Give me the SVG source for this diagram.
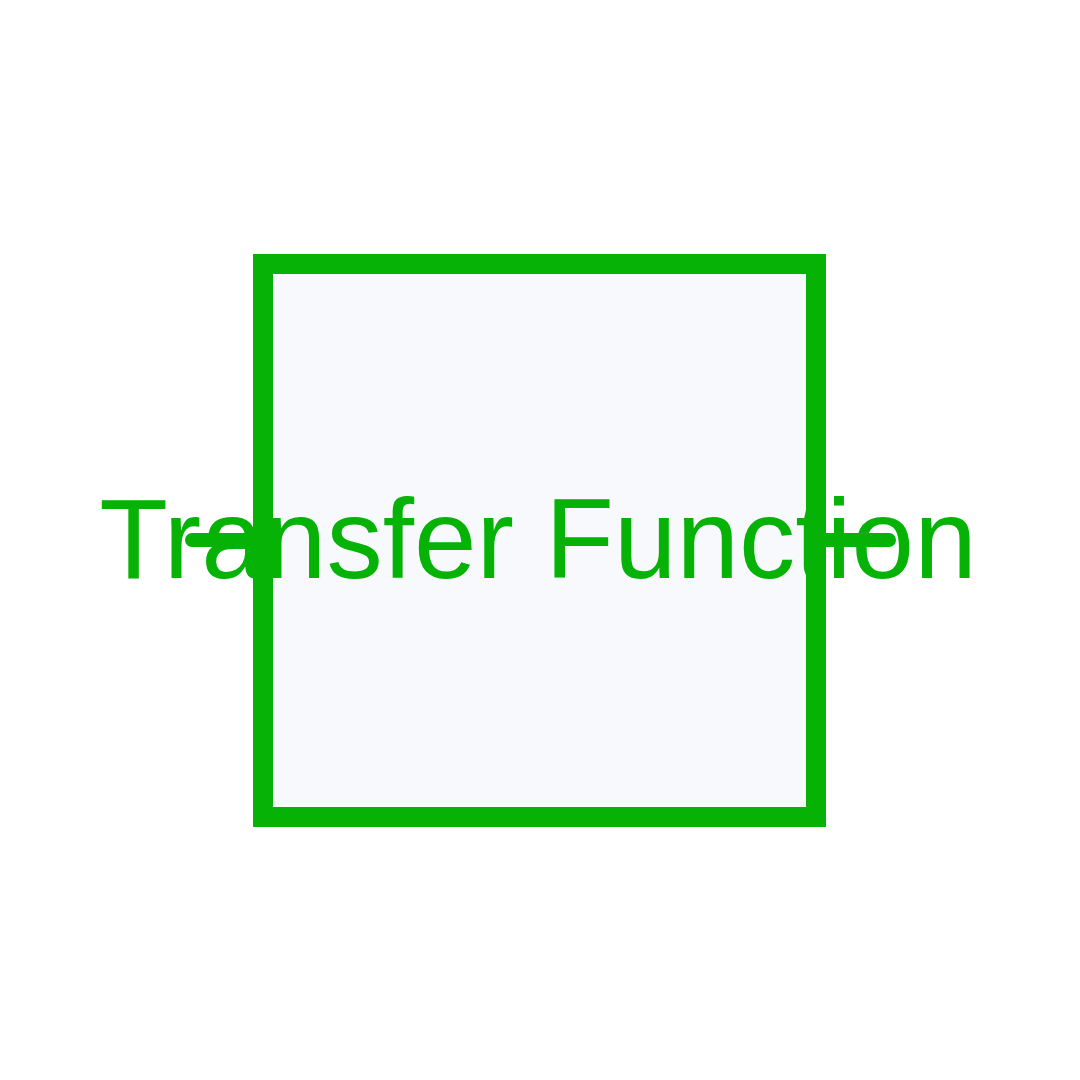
<svg xmlns="http://www.w3.org/2000/svg" width="1080" height="1080" viewBox="0 0 1080 1080">
<style>
.box{fill:#f7f9fd;stroke:#05b205;stroke-width:20}
.lbl{font-family:"Liberation Sans",Arial,sans-serif;font-size:112.5px;fill:#05b205;text-anchor:middle}
.wire{stroke:#05b205;stroke-width:14;stroke-linecap:round;fill:none}
</style>
<rect width="1080" height="1080" fill="#ffffff"/>
<g id="connectors">
<line class="wire" x1="192" y1="540" x2="262" y2="540"/>
<line class="wire" x1="817" y1="540" x2="889" y2="540"/>
</g>
<g id="transfer-function">
<rect class="box" x="263" y="264" width="553" height="553"/>
<text class="lbl" x="538" y="578">Transfer Function</text>
</g>
</svg>
